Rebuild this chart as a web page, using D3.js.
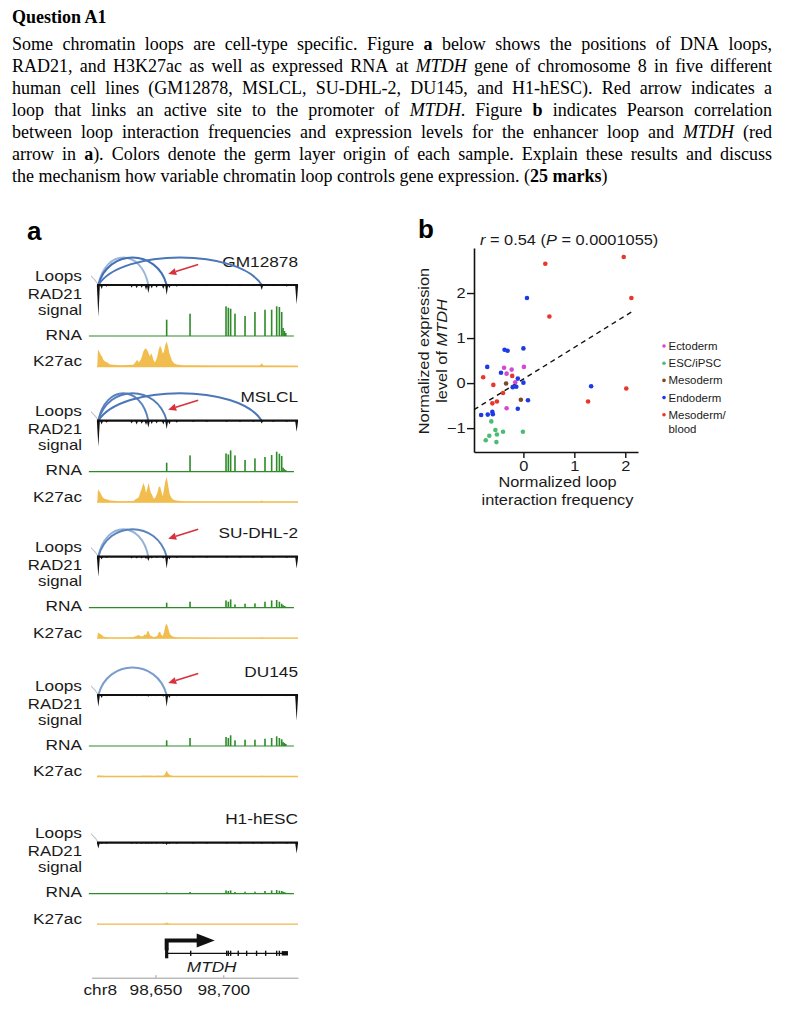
<!DOCTYPE html>
<html><head><meta charset="utf-8">
<script src="https://cdn.jsdelivr.net/npm/d3@7"></script>
<style>html,body{margin:0;padding:0;background:#fff;}svg{display:block;}</style>
</head><body>
<svg id="fig" width="796" height="1024"></svg>
<script>
// ---------------- DATA ----------------
const questionTitle = "Question A1";
const questionLines = [
  [["Some chromatin loops are cell-type specific. Figure ",""],["a","b"],[" below shows the positions of DNA loops,",""]],
  [["RAD21, and H3K27ac as well as expressed RNA at ",""],["MTDH","i"],[" gene of chromosome 8 in five different",""]],
  [["human cell lines (GM12878, MSLCL, SU-DHL-2, DU145, and H1-hESC). Red arrow indicates a",""]],
  [["loop that links an active site to the promoter of ",""],["MTDH","i"],[". Figure ",""],["b","b"],[" indicates Pearson correlation",""]],
  [["between loop interaction frequencies and expression levels for the enhancer loop and ",""],["MTDH","i"],[" (red",""]],
  [["arrow in ",""],["a","b"],["). Colors denote the germ layer origin of each sample. Explain these results and discuss",""]],
  [["the mechanism how variable chromatin loop controls gene expression. (",""],["25 marks","b"],[")",""]]
];

const cellLines = ["GM12878", "MSLCL", "SU-DHL-2", "DU145", "H1-hESC"];

// loops (kb on chr8): common left anchor, per-line right anchors and strengths
const loopAnchor = 98608.0;
const outsideLoop = [98500, 98608.0];
const loopEndsGM = [98644.8, 98658.3, 98728.3];
const loopEndsMS = [98644.8, 98658.3, 98728.3];
const loopEndsSU = [98644.8, 98658.3];
const loopEndsDU = [98658.3];
const loopEndsH1 = [];
const loopStrGM = [0.3, 0.85, 0.8];
const loopStrMS = [0.7, 0.75, 0.8];
const loopStrSU = [0.35, 0.7];
const loopStrDU = [0.5];
const loopStrH1 = [];

// RAD21 signal dips (kb, signal)
const radPos = [98608.0, 98610.4, 98614.1, 98632.5, 98636.2, 98639.9, 98643.1, 98644.8, 98647.3, 98650.9,
                98655.8, 98658.3, 98660.3, 98665.7, 98677.9, 98687.8, 98702.5, 98712.3, 98722.1, 98728.3,
                98736.8, 98746.7, 98754.0];
const radGM = [31.7, 4, 1.7, 2.7, 3.3, 2.7, 5, 8.3, 3.3, 2.7, 4, 10, 3, 1.7, 1.3, 1.3, 1.3, 1.3, 1.3, 5, 1.3, 1.7, 19.3];
const radMS = [26, 3.7, 2, 2.7, 3.7, 3, 4.3, 6.7, 3.3, 2.7, 3.7, 8.3, 3.7, 2, 1.3, 1.3, 1.3, 1.3, 1.3, 2.7, 1.3, 1.3, 11];
const radSU = [20, 2.7, 1.3, 1.7, 1.7, 1.7, 2.3, 4.3, 1.7, 1.3, 2, 11.7, 2.7, 1.3, 1, 1, 1, 1, 1, 1.3, 1, 1.3, 11.7];
const radDU = [11.7, 3, 1.3, 1.3, 1.3, 1.3, 1.3, 1.7, 1.3, 1.3, 1.7, 11.7, 3, 1.3, 1, 1, 1, 1, 1, 1.3, 1, 1.3, 25.7];
const radH1 = [5.7, 1.3, 1, 1, 1, 1, 1, 1, 1, 1, 1, 2.3, 1.3, 1, 1, 1, 1, 1, 1, 1, 1, 1, 10.7];

// RNA exon signal (kb, signal)
const rnaPos = [98658.3, 98675.5, 98702.0, 98703.7, 98705.4, 98708.6, 98716.0, 98723.3, 98730.7, 98735.6,
                98739.3, 98741.3, 98743.0, 98744.0, 98745.0, 98746.0];
const rnaGM = [16.3, 22.3, 29.7, 28.3, 27.3, 22.3, 20, 24, 26.3, 26.3, 29.7, 29, 24, 8, 5, 3];
const rnaMS = [9, 16.3, 18.3, 17.3, 21.3, 16.3, 11.7, 13.3, 14.7, 16.7, 20, 18, 15.7, 4, 2.5, 1.5];
const rnaSU = [5, 6, 7.3, 6, 8.3, 3.3, 4, 4.3, 6, 7.3, 7.7, 6, 4, 2.5, 1.7, 1];
const rnaDU = [5.7, 8, 9, 8, 10.7, 5.7, 6.3, 6.3, 7.3, 8, 9.7, 8, 6.7, 4, 3, 2];
const rnaH1 = [1.3, 1.7, 3.3, 2.7, 3.3, 1.7, 2, 2, 2.7, 3.3, 3.7, 3, 2.7, 2, 1.5, 1];

// H3K27ac signal profile (kb, signal)
const k27Pos = [98607.2, 98607.7, 98608.7, 98609.7, 98610.7, 98611.7, 98612.9, 98614.6, 98616.6, 98623.9,
                98633.8, 98635.7, 98636.7, 98637.7, 98639.2, 98640.1, 98641.1, 98642.1, 98643.1, 98644.1,
                98645.0, 98646.0, 98646.8, 98647.5, 98648.5, 98649.5, 98650.4, 98651.4, 98652.4, 98653.4,
                98654.4, 98655.4, 98656.3, 98657.3, 98658.3, 98659.3, 98660.3, 98661.2, 98662.2, 98663.7,
                98665.7, 98670.6, 98697.6, 98727.0, 98728.3, 98729.5, 98755.0];
const k27GM = [0, 16.7, 15, 11.7, 10, 6.7, 5, 4, 2, 1.3,
               1.7, 5, 6.7, 4, 6.7, 10, 15, 17.3, 18.3, 16,
               13.3, 10, 13.3, 11.7, 6.7, 4, 6, 10, 16.7, 20.7,
               18.3, 12.7, 15, 21.7, 25, 20, 13.3, 10, 6, 3.3,
               2, 1.3, 1, 1, 3.3, 1, 0.7];
const k27MS = [0, 12.7, 11, 9, 6, 4.3, 3.3, 2.7, 1.7, 1,
               1.3, 3.3, 4, 5, 11, 14.3, 19.3, 16, 9.3, 14.3,
               19.3, 12.7, 9, 7.7, 4.3, 3.7, 6, 9.3, 15, 16,
               11, 6, 12.7, 21, 25.3, 17.7, 9.3, 6, 3.7, 2.3,
               1.7, 1, 0.7, 0.7, 1.7, 0.7, 0.7];
const k27SU = [0, 5.7, 4.7, 4, 3, 1.7, 1.3, 1, 0.7, 0.7,
               1, 2.3, 2.7, 3.3, 2, 1.7, 2.3, 4, 3, 7.3,
               6.7, 3.3, 2.3, 2, 1.3, 1.3, 2, 2.3, 5.7, 6.7,
               3.3, 2.3, 5.7, 12.3, 14.7, 10.7, 5.7, 3.3, 2.3, 1.3,
               1, 0.7, 0.5, 0.5, 1, 0.5, 0.5];
const k27DU = [0, 1, 1, 0.8, 0.7, 0.7, 0.6, 0.6, 0.5, 0.5,
               0.5, 0.6, 0.6, 0.6, 0.6, 0.7, 0.7, 0.7, 0.7, 0.8,
               0.8, 0.7, 0.7, 0.7, 0.6, 0.6, 0.7, 0.7, 0.8, 0.8,
               0.8, 0.8, 1, 3, 6, 3.3, 1.7, 1, 0.8, 0.6,
               0.6, 0.5, 0.5, 0.5, 0.7, 0.5, 0.5];
const k27H1 = [0, 0.4, 0.4, 0.3, 0.3, 0.3, 0.3, 0.3, 0.3, 0.3,
               0.3, 0.3, 0.3, 0.3, 0.3, 0.3, 0.3, 0.3, 0.3, 0.3,
               0.3, 0.3, 0.3, 0.3, 0.3, 0.3, 0.3, 0.3, 0.3, 0.3,
               0.3, 0.3, 0.4, 1, 1.7, 1, 0.5, 0.3, 0.3, 0.3,
               0.3, 0.3, 0.3, 0.3, 0.3, 0.3, 0.3];

// MTDH gene model
const geneName = "MTDH";
const geneTSS = 98658.3;
const geneEnd = 98747.6;
const geneExons = [98676.0, 98702.5, 98703.7, 98705.4, 98711.0, 98717.2, 98724.5, 98731.2, 98739.3, 98741.3];
const geneUTR = [98743.0, 98747.6];
const chromName = "chr8";
const genomeTicks = [98650, 98700];

// Panel b scatter
const scatterTitle = [["r","i"],[" = 0.54 (",""],["P","i"],[" = 0.0001055)",""]];
const germLayers = ["Ectoderm", "ESC/iPSC", "Mesoderm", "Endoderm", "Mesoderm/blood"];
const legendLines = [["Ectoderm"], ["ESC/iPSC"], ["Mesoderm"], ["Endoderm"], ["Mesoderm/", "blood"]];
const ectodermPts = [[-0.38, 0.34], [-0.23, 0.30], [0.01, 0.36], [-0.33, 0.21], [-0.16, 0.02], [-0.33, -0.56]];
const escPts = [[-0.63, -0.85], [-0.55, -1.04], [-0.40, -1.08], [-0.01, -1.08], [-0.52, -1.14], [-0.67, -1.17], [-0.74, -1.27], [-0.53, -1.31]];
const mesodermPts = [[-0.34, -0.01], [-0.05, -0.37]];
const endodermPts = [[0.07, 1.89], [-0.37, 0.74], [-0.31, 0.72], [0.0, 0.77], [-0.71, 0.36], [-0.44, 0.23], [-0.11, 0.10],
                     [-0.21, -0.09], [-0.14, -0.08], [0.0, 0.01], [0.09, -0.38], [-0.11, -0.57], [-0.83, -0.71],
                     [-0.70, -0.70], [-0.61, -0.64], [-0.60, -0.69], [1.33, -0.07]];
const bloodPts = [[0.43, 2.65], [1.97, 2.80], [2.12, 1.89], [0.51, 1.48], [-0.79, 0.13], [-0.22, 0.16], [-0.59, -0.04],
                  [-0.40, -0.22], [-0.52, -0.41], [-0.61, -0.45], [2.02, -0.12], [1.27, -0.41]];
const fitX = [-0.97, 2.18];
const fitY = [-0.59, 1.62];
const xTicks = [0, 1, 2];
const yTicks = [-1, 0, 1, 2];

// ---------------- DRAWING ----------------
const svg = d3.select("#fig");
const SANS = "'Liberation Sans', Arial, Helvetica, sans-serif";
const SERIF = "'Liberation Serif', 'Times New Roman', serif";
const SX = 1.15;

function sText(g, x, y, segs, o = {}) {
  const sx = o.sx ?? SX;
  const t = g.append("text")
    .attr("transform", `translate(${x},${y})${o.rot ? ` rotate(${o.rot})` : ""} scale(${sx},1)`)
    .attr("text-anchor", o.anchor || "start")
    .attr("font-family", SANS).attr("font-size", o.size || 15)
    .attr("font-weight", o.weight || "normal").attr("fill", o.fill || "#1a1a1a");
  if (typeof segs === "string") segs = [[segs, ""]];
  segs.forEach(([s, f]) => t.append("tspan").attr("font-style", f === "i" ? "italic" : null).text(s));
  return t;
}

// ---- question text (justified) ----
const qg = svg.append("g");
qg.append("text").attr("x", 12).attr("y", 23).attr("font-family", SERIF).attr("font-size", 18)
  .attr("font-weight", "bold").text(questionTitle);

function layoutLine(g, segs, x0, y, width, justify) {
  const words = [[]];
  segs.forEach(([s, f]) => {
    s.split(" ").forEach((part, k) => {
      if (k > 0) words.push([]);
      if (part.length) words[words.length - 1].push([part, f]);
    });
  });
  const ws = words.filter(w => w.length);
  const nodes = ws.map(w => {
    const t = g.append("text").attr("y", y).attr("font-family", SERIF).attr("font-size", 18).attr("fill", "#000");
    w.forEach(([s, f]) => t.append("tspan")
      .attr("font-weight", f === "b" ? "bold" : null)
      .attr("font-style", f === "i" ? "italic" : null).text(s));
    return t;
  });
  const widths = nodes.map(t => t.node().getComputedTextLength());
  const gap = justify ? (width - d3.sum(widths)) / (ws.length - 1) : 4.5;
  let x = x0;
  nodes.forEach((t, k) => { t.attr("x", x); x += widths[k] + gap; });
}
questionLines.forEach((segs, i) => layoutLine(qg, segs, 12, 50 + 22 * i, 760, i < questionLines.length - 1));

// ---- panel a ----
const ga = svg.append("g");
ga.append("text").attr("x", 27).attr("y", 240).attr("font-family", SANS).attr("font-size", 26)
  .attr("font-weight", "bold").text("a");

const xg = d3.scaleLinear().domain([98607, 98755]).range([97, 298]);
const sigY = d3.scaleLinear().domain([0, 30]).range([0, 30]);
const loopColor = d3.scaleLinear().domain([0, 1]).range(["#c9def1", "#2b5ca8"]);

svg.append("defs").append("clipPath").attr("id", "loopClip").append("rect")
  .attr("x", 91).attr("y", 0).attr("width", 210).attr("height", 1024);

const panels = [
  {name: cellLines[0], ends: loopEndsGM, str: loopStrGM, rad: radGM, rna: rnaGM, k27: k27GM},
  {name: cellLines[1], ends: loopEndsMS, str: loopStrMS, rad: radMS, rna: rnaMS, k27: k27MS},
  {name: cellLines[2], ends: loopEndsSU, str: loopStrSU, rad: radSU, rna: rnaSU, k27: k27SU},
  {name: cellLines[3], ends: loopEndsDU, str: loopStrDU, rad: radDU, rna: rnaDU, k27: k27DU},
  {name: cellLines[4], ends: loopEndsH1, str: loopStrH1, rad: radH1, rna: rnaH1, k27: k27H1}
];
const panelBaseY = [285, 420.7, 556.7, 695, 842.7];
const arrowLift = [-11, -11, -18, -12];
const ARC_H = 27.5;

const green = "#2f8a2a", yellow = "#f1bd4f", red = "#d8313c";

panels.forEach((p, i) => {
  const base = panelBaseY[i];
  const rnaY = base + 51, k27Y = base + 81.5;
  const g = ga.append("g");

  sText(g, 298, base - 18.5, p.name, {anchor: "end"});
  sText(g, 82, base - 4.5, "Loops", {anchor: "end"});
  sText(g, 82, base + 13.5, "RAD21", {anchor: "end", size: 14, sx: 1.2});
  sText(g, 82, base + 29.5, "signal", {anchor: "end", size: 14, sx: 1.2});
  sText(g, 82, rnaY + 3.5, "RNA", {anchor: "end"});
  sText(g, 82, k27Y - 0.5, "K27ac", {anchor: "end"});

  // loops (arches)
  const lg = g.append("g").attr("clip-path", "url(#loopClip)").attr("fill", "none");
  const arc = (a, b, h) => {
    const x1 = xg(a), x2 = xg(b), w = x2 - x1, c = base - h * 4 / 3;
    return `M${x1},${base} C${x1 + w * 0.14},${c} ${x2 - w * 0.14},${c} ${x2},${base}`;
  };
  lg.append("path").attr("d", arc(outsideLoop[0], outsideLoop[1], ARC_H))
    .attr("stroke", "#c4c4c4").attr("stroke-width", 1.2);
  lg.selectAll("path.loop").data(p.ends).join("path").attr("class", "loop")
    .attr("d", d => arc(loopAnchor, d, ARC_H))
    .attr("stroke", (d, k) => loopColor(p.str[k])).attr("stroke-width", 2);

  // arrow to the promoter loop
  if (i < arrowLift.length) {
    const tx = xg(loopEndsDU[0]) + 1.5, ty = base + arrowLift[i];
    const ux = tx + 30, uy = ty - 9.5;
    const ang = Math.atan2(ty - uy, tx - ux);
    const L = 8, W = 3.6;
    const bx = tx - L * Math.cos(ang), by = ty - L * Math.sin(ang);
    g.append("line").attr("x1", ux).attr("y1", uy).attr("x2", bx).attr("y2", by)
      .attr("stroke", red).attr("stroke-width", 1.6);
    g.append("path").attr("fill", red).attr("d",
      `M${tx},${ty} L${bx + W * Math.sin(ang)},${by - W * Math.cos(ang)} L${bx - W * Math.sin(ang)},${by + W * Math.cos(ang)} Z`);
  }

  // RAD21 signal
  g.append("line").attr("x1", xg(98607)).attr("x2", xg(98755)).attr("y1", base).attr("y2", base)
    .attr("stroke", "#111").attr("stroke-width", 2.2);
  g.selectAll("path.rad").data(radPos.map((pos, k) => [pos, p.rad[k]])).join("path").attr("class", "rad")
    .attr("fill", "#111")
    .attr("d", d => `M${xg(d[0]) - 1.5},${base} L${xg(d[0])},${base + sigY(d[1])} L${xg(d[0]) + 1.5},${base} Z`);

  // RNA
  g.append("line").attr("x1", xg(98601)).attr("x2", xg(98752)).attr("y1", rnaY).attr("y2", rnaY)
    .attr("stroke", green).attr("stroke-width", 1.2);
  g.selectAll("rect.rna").data(rnaPos.map((pos, k) => [pos, p.rna[k]])).join("rect").attr("class", "rna")
    .attr("x", d => xg(d[0]) - 0.8).attr("width", 1.6)
    .attr("y", d => rnaY - sigY(d[1])).attr("height", d => sigY(d[1]))
    .attr("fill", green);

  // K27ac
  const area = d3.area().x(d => xg(d[0])).y0(k27Y).y1(d => k27Y - sigY(d[1]));
  g.append("path").datum(k27Pos.map((pos, k) => [pos, p.k27[k]])).attr("d", area)
    .attr("fill", yellow);
  g.append("line").attr("x1", xg(98607)).attr("x2", xg(98755)).attr("y1", k27Y).attr("y2", k27Y)
    .attr("stroke", yellow).attr("stroke-width", 1.3);
});

// gene model
const geneY = 953.3;
const gg = ga.append("g");
gg.append("line").attr("x1", xg(geneTSS)).attr("x2", xg(geneEnd)).attr("y1", geneY).attr("y2", geneY)
  .attr("stroke", "#111").attr("stroke-width", 1.2);
gg.append("rect").attr("x", xg(geneTSS) - 1.6).attr("width", 3.2).attr("y", geneY - 5).attr("height", 10).attr("fill", "#111");
gg.selectAll("rect.exon").data(geneExons).join("rect").attr("class", "exon")
  .attr("x", d => xg(d) - 0.7).attr("width", 1.4).attr("y", geneY - 2.6).attr("height", 5.2).attr("fill", "#111");
gg.append("rect").attr("x", xg(geneUTR[0])).attr("width", xg(geneUTR[1]) - xg(geneUTR[0]))
  .attr("y", geneY - 2.2).attr("height", 4.4).attr("fill", "#111");
// TSS arrow
const arrY = 940.5;
gg.append("path").attr("fill", "none").attr("stroke", "#111").attr("stroke-width", 4)
  .attr("d", `M${xg(geneTSS)},${geneY - 3} V${arrY} H${xg(geneTSS) + 32}`);
gg.append("path").attr("fill", "#111")
  .attr("d", `M${xg(geneTSS) + 48},${arrY} L${xg(geneTSS) + 30},${arrY - 7} L${xg(geneTSS) + 30},${arrY + 7} Z`);
sText(gg, xg(geneTSS) + 45, 971.7, [[geneName, "i"]], {anchor: "middle"});

// genome axis
const axScale = xg.copy().domain([98603, 98755]).range([xg(98603), xg(98755)]);
const gax = ga.append("g").attr("transform", "translate(0,977.7)")
  .call(d3.axisBottom(axScale).tickValues(genomeTicks).tickFormat(d3.format(",")).tickSize(-2.5).tickSizeOuter(0).tickPadding(7));
gax.select(".domain").attr("stroke", "#9a9a9a").attr("stroke-width", 1);
gax.selectAll(".tick line").attr("stroke", "#9a9a9a");
gax.selectAll(".tick text").attr("font-family", SANS).attr("font-size", 15).attr("fill", "#1a1a1a")
  .attr("dy", "0.71em").attr("y", 6.5).attr("transform", `scale(${SX},1)`);
sText(ga, 117, 995, chromName, {anchor: "end"});

// ---- panel b ----
const gb = svg.append("g");
gb.append("text").attr("x", 418).attr("y", 238).attr("font-family", SANS).attr("font-size", 26)
  .attr("font-weight", "bold").text("b");

const BX = 1.17;
const xs = d3.scaleLinear().domain([-0.97, 2.25]).range([474, 638]);
const ys = d3.scaleLinear().domain([-1.53, 3.0]).range([452, 248]);
const color = d3.scaleOrdinal().domain(germLayers).range(["#d24ad2", "#4cbb74", "#7b4a25", "#1d3ae6", "#e8362c"]);

sText(gb, 480, 244.5, scatterTitle, {size: 14, sx: BX});

function styleAxis(sel) {
  sel.attr("font-family", SANS).attr("font-size", 14);
  sel.select(".domain").attr("stroke", "#111").attr("stroke-width", 1.6);
  sel.selectAll(".tick line").attr("stroke", "#111").attr("stroke-width", 1.4);
  sel.selectAll(".tick text").attr("fill", "#1a1a1a").each(function () {
    const t = d3.select(this);
    t.attr("x", (+t.attr("x") || 0) / BX).attr("transform", `scale(${BX},1)`);
  });
}
const intFmt = d3.format("d");
const gyAx = gb.append("g").attr("transform", "translate(474,0)")
  .call(d3.axisLeft(ys).tickValues(yTicks).tickFormat(intFmt).tickSize(7).tickPadding(1.5).tickSizeOuter(0));
styleAxis(gyAx);
const gxAx = gb.append("g").attr("transform", "translate(0,452)")
  .call(d3.axisBottom(xs).tickValues(xTicks).tickFormat(intFmt).tickSize(6).tickPadding(3).tickSizeOuter(0));
styleAxis(gxAx);

// fit line
gb.append("line").attr("x1", xs(fitX[0])).attr("y1", ys(fitY[0])).attr("x2", xs(fitX[1])).attr("y2", ys(fitY[1]))
  .attr("stroke", "#111").attr("stroke-width", 1.4).attr("stroke-dasharray", "5,4");

// points
const groups = [ectodermPts, escPts, mesodermPts, endodermPts, bloodPts];
groups.forEach((pts, k) => {
  gb.append("g").selectAll("circle").data(pts).join("circle")
    .attr("cx", d => xs(d[0])).attr("cy", d => ys(d[1])).attr("r", 2.3)
    .attr("fill", color(germLayers[k]));
});

// axis labels
sText(gb, 557.5, 486.7, "Normalized loop", {size: 14, sx: BX, anchor: "middle"});
sText(gb, 557.5, 505, "interaction frequency", {size: 14, sx: BX, anchor: "middle"});
sText(gb, 429, 351, "Normalized expression", {size: 14, sx: BX, anchor: "middle", rot: -90});
sText(gb, 447, 351, [["level of ", ""], ["MTDH", "i"]], {size: 14, sx: BX, anchor: "middle", rot: -90});

// legend
legendLines.forEach((lines, k) => {
  const cy = 346 + k * 17.2;
  gb.append("circle").attr("cx", 664).attr("cy", cy).attr("r", 1.8).attr("fill", color(germLayers[k]));
  lines.forEach((s, j) => sText(gb, 668.5, cy + 4 + j * 14.3, s, {size: 11, sx: 1.04}));
});
</script>
</body></html>
